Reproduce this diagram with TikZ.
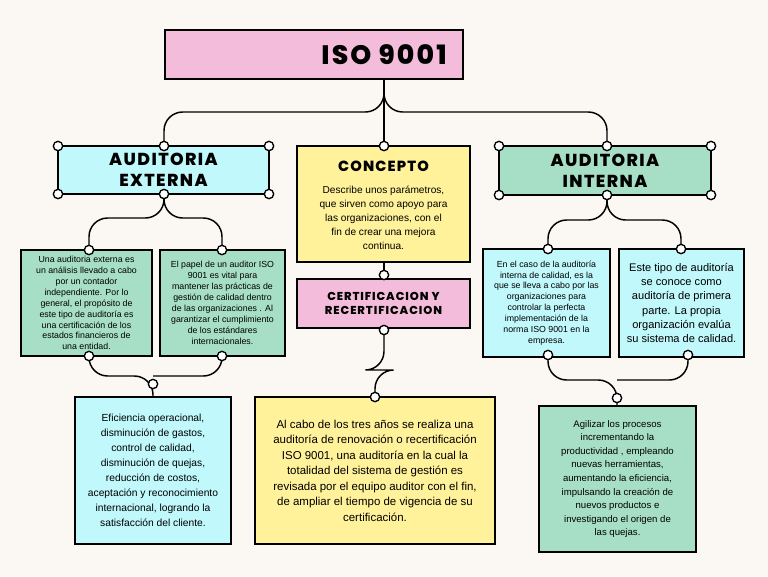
\documentclass[tikz,border=0pt]{standalone}
\usepackage{fontspec}
\setmainfont{Liberation Sans}
\newfontfamily\headf[LetterSpace=8,BoldFont={Poppins ExtraBold},BoldFeatures={LetterSpace=8}]{Poppins}
\begin{document}
\begin{tikzpicture}[x=0.75pt,y=-0.75pt,
  box/.style={draw=black,line width=1.2pt},
  lnk/.style={draw=black,line width=1.1pt,rounded corners=14pt},
  dot/.style={circle,draw=black,fill=white,line width=1pt,inner sep=0pt,minimum size=7pt},
  hd/.style={font=\headf\bfseries\fontsize{13}{16}\selectfont,align=center},
  tx/.style={align=center,font=\fontsize{6.6}{8.2}\selectfont}]
\definecolor{bg}{HTML}{FBF8F3}
\definecolor{pk}{HTML}{F4BCDB}
\definecolor{cy}{HTML}{C0F8FB}
\definecolor{ye}{HTML}{FFF29A}
\definecolor{gr}{HTML}{A7DFC6}
\useasboundingbox[fill=bg] (0,0) rectangle (768,576);
% connectors
\coordinate (isob) at (384,79);
\draw[lnk] (isob) -- (384,112) -| (164,146);
\draw[lnk] (isob) -- (384,112) -| (607,146);
\draw[lnk] (384,79) -- (384,146);
\draw[lnk] (164,194) -- (164,218) -| (89,250);
\draw[lnk] (164,194) -- (164,218) -| (222,250);
\draw[lnk] (607,195) -- (607,220) -| (548,249);
\draw[lnk] (607,195) -- (607,220) -| (681,249);
\draw[lnk] (89,356) |- (153,376) -- (153,397);
\draw[lnk] (222,356) |- (153,376);
\draw[lnk] (548,355) |- (617,380) -- (617,406);
\draw[lnk] (688,355) |- (617,380);
\draw[lnk] (384,262) -- (384,279);
\draw[lnk] (384,328) -- (384,370) -| (375,397);
% boxes
\node[box,fill=pk,minimum width=298*0.75pt,minimum height=49*0.75pt] (iso) at (314,54.5) {};
\node[hd,font=\headf\bfseries\fontsize{20}{20}\selectfont] at (384,54.5) {ISO 9001};
\node[box,fill=cy,hd,minimum width=211*0.75pt,minimum height=48*0.75pt] (ext) at (163.5,170) {AUDITORIA\\EXTERNA};
\node[box,fill=gr,hd,minimum width=212*0.75pt,minimum height=49*0.75pt] (int) at (605,170.5) {AUDITORIA\\INTERNA};
\node[box,fill=ye,minimum width=173*0.75pt,minimum height=116*0.75pt] (con) at (383.5,204) {};
\node[hd,font=\headf\bfseries\fontsize{11}{12}\selectfont] at (383.5,166) {CONCEPTO};
\node[tx,font=\fontsize{7.6}{10.4}\selectfont] at (383.5,218) {Describe unos parámetros,\\que sirven como apoyo para\\las organizaciones, con el\\fin de crear una mejora\\continua.};
\node[box,fill=pk,hd,font=\headf\bfseries\fontsize{8.6}{11}\selectfont,minimum width=173*0.75pt,minimum height=49*0.75pt] (cert) at (383.5,303.5) {CERTIFICACION Y\\RECERTIFICACION};
\node[box,fill=gr,tx,minimum width=131*0.75pt,minimum height=106*0.75pt] (e1) at (86.5,303) {Una auditoria externa es\\un análisis llevado a cabo\\por un contador\\independiente. Por lo\\general, el propósito de\\este tipo de auditoría es\\una certificación de los\\estados financieros de\\una entidad.};
\node[box,fill=gr,tx,minimum width=125*0.75pt,minimum height=106*0.75pt] (e2) at (222.5,303) {El papel de un auditor ISO\\9001 es vital para\\mantener las prácticas de\\gestión de calidad dentro\\de las organizaciones . Al\\garantizar el cumplimiento\\de los estándares\\internacionales.};
\node[box,fill=cy,tx,minimum width=127*0.75pt,minimum height=108*0.75pt] (i1) at (546.5,303) {En el caso de la auditoría\\interna de calidad, es la\\que se lleva a cabo por las\\organizaciones para\\controlar la perfecta\\implementación de la\\norma ISO 9001 en la\\empresa.};
\node[box,fill=cy,tx,font=\fontsize{8.3}{10.6}\selectfont,minimum width=125*0.75pt,minimum height=108*0.75pt] (i2) at (681.5,303) {Este tipo de auditoría\\se conoce como\\auditoría de primera\\parte. La propia\\organización evalúa\\su sistema de calidad.};
\node[box,fill=cy,tx,font=\fontsize{7.7}{11.2}\selectfont,minimum width=156*0.75pt,minimum height=147*0.75pt] (er) at (153,470.5) {Eficiencia operacional,\\disminución de gastos,\\control de calidad,\\disminución de quejas,\\reducción de costos,\\aceptación y reconocimiento\\internacional, logrando la\\satisfacción del cliente.};
\node[box,fill=ye,tx,font=\fontsize{8.6}{11.6}\selectfont,minimum width=240*0.75pt,minimum height=147*0.75pt] (cr) at (375,470.5) {Al cabo de los tres años se realiza una\\auditoría de renovación o recertificación\\ISO 9001, una auditoría en la cual la\\totalidad del sistema de gestión es\\revisada por el equipo auditor con el fin,\\de ampliar el tiempo de vigencia de su\\certificación.};
\node[box,fill=gr,tx,font=\fontsize{7.2}{10.2}\selectfont,minimum width=157*0.75pt,minimum height=146*0.75pt] (ir) at (617.5,479) {Agilizar los procesos\\incrementando la\\productividad , empleando\\nuevas herramientas,\\aumentando la eficiencia,\\impulsando la creación de\\nuevos productos e\\investigando el origen de\\las quejas.};
% dots
\foreach \p in {(164,146),(58,146),(269,146),(58,194),(269,194),(164,194),
 (384,146),(384,275),(384,330),
 (607,146),(499,146),(711,146),(499,195),(711,195),(607,195),
 (89,250),(222,250),(89,356),(222,356),(153,384),
 (548,249),(681,249),(548,355),(688,355),(617,398),(375,397)}
  \node[dot] at \p {};
\end{tikzpicture}
\end{document}
